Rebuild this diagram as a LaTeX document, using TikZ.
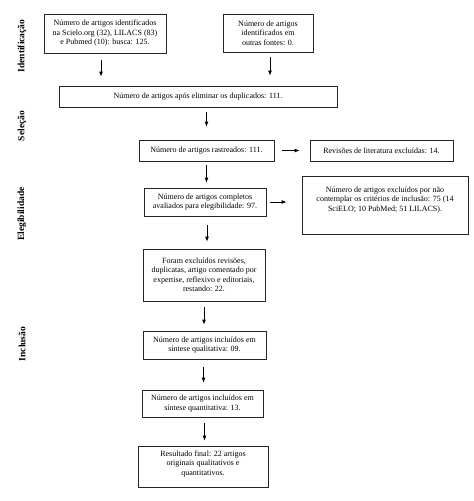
\documentclass[tikz,border=0pt]{standalone}
\usepackage{fontspec}
\setmainfont{Liberation Serif}
\usetikzlibrary{arrows.meta}
\tikzset{
  box/.style={draw=black!85, line width=0.8pt, fill=white, align=center, inner sep=1pt,
    font=\fontsize{8}{9.5}\selectfont},
  txt/.style={align=center, inner sep=0pt, font=\fontsize{8}{9.5}\selectfont},
  phase/.style={rotate=90, font=\fontsize{9.5}{11}\selectfont\bfseries, inner sep=0pt},
  arr/.style={draw=black, line width=0.8pt, -{Latex[length=5pt,width=4pt]}}
}
\begin{document}
\begin{tikzpicture}[x=1pt,y=-1pt]
\useasboundingbox[fill=white] (0,0) rectangle (474,501);
% phase labels
\node[phase] (pid) at (22,46) {Identificação};
\node[phase] (psel) at (22,126) {Seleção};
\node[phase] (peleg) at (22,214) {Elegibilidade};
\node[phase] (pinc) at (22,344) {Inclusão};
% boxes
\node[box, minimum width=122pt, minimum height=39pt] (b1) at (105,33.5)
  {Número de artigos identificados\\ na Scielo.org (32), LILACS (83)\\ e Pubmed (10): busca: 125.};
\node[box, minimum width=90pt, minimum height=38pt] (b2) at (268,33)
  {Número de artigos\\ identificados em\\ outras fontes: 0.};
\node[box, minimum width=278pt, minimum height=21pt] (b3) at (198,96.5)
  {Número de artigos após eliminar os duplicados: 111.};
\node[box, minimum width=135pt, minimum height=21pt] (b4) at (206.5,150.5)
  {Número de artigos rastreados: 111.};
\node[box, minimum width=143pt, minimum height=21pt] (b5) at (381.5,150.5)
  {Revisões de literatura excluídas: 14.};
\node[box, minimum width=122pt, minimum height=28pt] (b6) at (205,202)
  {Número de artigos completos\\ avaliados para elegibilidade: 97.};
\node[box, minimum width=166pt, minimum height=58pt] (b7) at (385,205) {};
\node[txt] (b7t) at (385,200)
  {Número de artigos excluídos por não\\ contemplar os critérios de inclusão: 75 (14\\ SciELO; 10 PubMed; 51 LILACS).};
\node[box, minimum width=122pt, minimum height=52pt] (b8) at (204,275)
  {Foram excluídos revisões,\\ duplicatas, artigo comentado por\\ expertise, reflexivo e editoriais,\\ restando: 22.};
\node[box, minimum width=123pt, minimum height=28pt] (b9) at (204.5,345)
  {Número de artigos incluídos em\\ síntese qualitativa: 09.};
\node[box, minimum width=121pt, minimum height=27pt] (b10) at (202.5,403.5)
  {Número de artigos incluídos em\\ síntese quantitativa: 13.};
\node[box, minimum width=130pt, minimum height=41pt] (b11) at (203,466.5) {};
\node[txt] (b11t) at (203,464)
  {Resultado final: 22 artigos\\ originais qualitativos e\\ quantitativos.};
% connectors
\draw[arr, shorten <=7pt, shorten >=9pt] ([xshift=-4pt]b1.south) -- ([xshift=-4pt]b1.south |- b3.north);
\draw[arr, shorten <=5pt, shorten >=10pt] ([xshift=2pt]b2.south) -- ([xshift=2pt]b2.south |- b3.north);
\draw[arr, shorten <=5pt, shorten >=13pt] (b4.north |- b3.south) -- (b4.north);
\draw[arr, shorten <=8pt, shorten >=10pt] (b4.east) -- (b5.west);
\draw[arr, shorten <=4pt, shorten >=5pt] (b4.south) -- (b4.south |- b6.north);
\draw[arr, shorten <=4pt, shorten >=15pt] (b6.east) -- (b6.east -| b7.west);
\draw[arr, shorten <=9pt, shorten >=7pt] ([xshift=2pt]b6.south) -- ([xshift=2pt]b6.south |- b8.north);
\draw[arr, shorten <=6pt, shorten >=6pt] (b8.south) -- (b8.south |- b9.north);
\draw[arr, shorten <=8pt, shorten >=7pt] ([xshift=-1pt]b9.south) -- ([xshift=-1pt]b9.south |- b10.north);
\draw[arr, shorten <=6pt, shorten >=5pt] ([xshift=2pt]b10.south) -- ([xshift=2pt]b10.south |- b11.north);
\end{tikzpicture}
\end{document}
